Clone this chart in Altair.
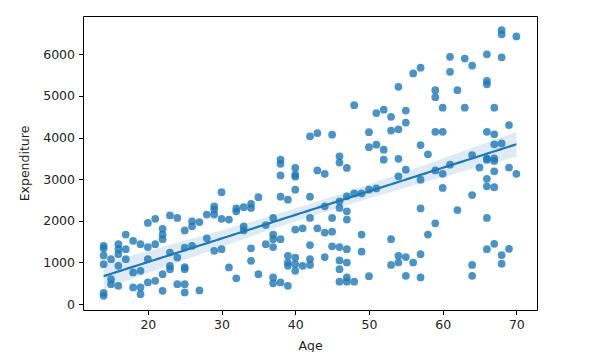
import altair as alt
import numpy as np
import pandas as pd

age_groups = [14, 15, 16, 17, 18, 19, 20, 21, 22, 23, 24, 25, 26, 27, 28, 29, 30,
              31, 32, 33, 34, 35, 36, 37, 38, 39, 40, 41, 42, 43, 44, 45, 46, 47,
              48, 49, 50, 51, 52, 53, 54, 55, 56, 57, 58, 59, 60, 61, 62, 63, 64,
              65, 66, 67, 68, 69, 70]

expenditure_groups = [
    [1400, 1340, 1170, 960, 270, 200],          # 14
    [1080, 600, 480],                           # 15
    [1440, 1320, 1200, 920, 440],               # 16
    [1670, 1320, 1080],                         # 17
    [1520, 760, 400],                           # 18
    [1440, 800, 400, 240],                      # 19
    [1950, 1370, 1080, 520],                    # 20
    [2050, 1440, 560],                          # 21
    [1810, 1670, 1560, 720, 320],               # 22
    [2130, 1240, 920, 840],                     # 23
    [2070, 1120, 480],                          # 24
    [1770, 1360, 890, 840, 480, 280],           # 25
    [1990, 1870, 1400],                         # 26
    [1970, 330],                                # 27
    [2150, 1580],                               # 28
    [2350, 2270, 2150, 1280],                   # 29
    [2690, 2050, 1320],                         # 30
    [2030, 880],                                # 31
    [2300, 2230, 620],                          # 32
    [2330, 1870, 1770],                         # 33
    [2410, 2310, 1340, 1040],                   # 34
    [2570, 720],                                # 35
    [1900, 1440],                               # 36
    [2070, 1670, 1560, 1370, 640, 500],         # 37
    [3470, 3370, 3090, 2580, 1560, 520],        # 38
    [2510, 1160, 1000, 920, 440],               # 39
    [3270, 3110, 3060, 2750, 1790, 1120, 960, 800],  # 40
    [1820, 920],                                # 41
    [4030, 2580, 2070, 1420, 1080, 940],        # 42
    [4110, 3210, 1820],                         # 43
    [3130, 2350, 1720, 1130],                   # 44
    [4070, 2070, 1740, 1390],                   # 45
    [3550, 3400, 2470, 2310, 1370, 1050, 840, 540],  # 46
    [3270, 2590, 2230, 2030, 1320, 1000, 640, 540],  # 47
    [4780, 2660, 540],                          # 48
    [2660, 1670, 1260],                         # 49
    [4130, 3770, 2750, 670],                    # 50
    [4590, 3830, 2780],                         # 51
    [4670, 3710, 3470],                         # 52
    [4500, 4170, 1560, 940],                    # 53
    [5220, 4200, 3490, 3070, 1160, 1000],       # 54
    [4650, 4360, 3230, 1130, 680],              # 55
    [5540, 1000],                               # 56
    [5680, 3820, 2990, 2300, 1200, 640],        # 57
    [3600, 1670],                               # 58
    [5140, 4970, 4140, 3210, 1940],             # 59
    [4720, 4140, 3130, 2790],                   # 60
    [5940, 5580, 3350],                         # 61
    [5140, 2260],                               # 62
    [5900, 4720],                               # 63
    [5730, 3580, 2620, 940, 680],               # 64
    [3280],                                     # 65
    [6000, 5360, 5280, 4140, 3500, 3470, 3010, 2830, 2070, 1320],  # 66
    [4720, 4080, 3840, 3500, 3440, 3190, 2810, 1450],  # 67
    [6580, 6480, 5930, 3860, 1180, 970],        # 68
    [4300, 3280, 1330],                         # 69
    [6430, 3130],                               # 70
]

x_ticks = [20, 30, 40, 50, 60, 70]
y_ticks = [0, 1000, 2000, 3000, 4000, 5000, 6000]

ages, exps = [], []
for a, vals in zip(age_groups, expenditure_groups):
    for v in vals:
        ages.append(a)
        exps.append(v)
df = pd.DataFrame({"Age": ages, "Expenditure": exps})

# linear fit with 95% confidence band
x = np.array(ages, dtype=float)
y = np.array(exps, dtype=float)
n = len(x)
b1, b0 = np.polyfit(x, y, 1)
resid = y - (b0 + b1 * x)
s = np.sqrt(np.sum(resid ** 2) / (n - 2))
xbar = x.mean()
sxx = np.sum((x - xbar) ** 2)
grid = np.linspace(x.min(), x.max(), 100)
yhat = b0 + b1 * grid
se = s * np.sqrt(1.0 / n + (grid - xbar) ** 2 / sxx)
fit = pd.DataFrame({"Age": grid, "fit": yhat, "lo": yhat - 1.97 * se, "hi": yhat + 1.97 * se})

xscale = alt.Scale(domain=[11.2, 72.8], nice=False, zero=False)
yscale = alt.Scale(domain=[-141, 6921], nice=False, zero=False)
blue = "#1f77b4"

xaxis = alt.Axis(values=x_ticks, title="Age", grid=False, format="d")
yaxis = alt.Axis(values=y_ticks, title="Expenditure", grid=False, format="d")

points = alt.Chart(df).mark_circle(size=60, opacity=0.8, color=blue).encode(
    x=alt.X("Age:Q", scale=xscale, axis=xaxis),
    y=alt.Y("Expenditure:Q", scale=yscale, axis=yaxis),
)
band = alt.Chart(fit).mark_area(color=blue, opacity=0.15).encode(
    x=alt.X("Age:Q", scale=xscale),
    y=alt.Y("lo:Q", scale=yscale),
    y2="hi:Q",
)
line = alt.Chart(fit).mark_line(color=blue, strokeWidth=2.2).encode(
    x=alt.X("Age:Q", scale=xscale),
    y=alt.Y("fit:Q", scale=yscale),
)

chart = alt.layer(points, band, line).properties(
    width=454, height=294,
    autosize=alt.AutoSizeParams(type="none"),
    padding={"left": 75, "top": 8, "right": 50, "bottom": 42},
).configure_view(
    stroke="black", strokeWidth=1
).configure_axis(
    domain=False,
    tickColor="black",
    tickSize=4.5,
    labelFont="DejaVu Sans",
    labelFontSize=12.5,
    labelColor="#222222",
    labelPadding=4,
    titleFont="DejaVu Sans",
    titleFontSize=12.5,
    titleFontWeight="normal",
    titleColor="#222222",
).configure_axisX(titlePadding=8).configure_axisY(titlePadding=11)

chart.save("out.html", embed_options={"renderer": "svg", "actions": False})
